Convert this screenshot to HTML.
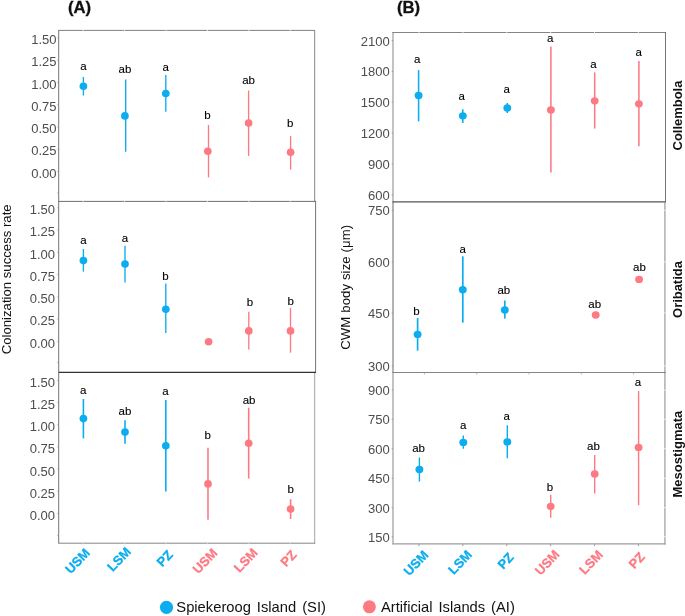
<!DOCTYPE html>
<html lang="en">
<head>
<meta charset="utf-8">
<title>Colonization success rate and CWM body size</title>
<style>
html,body{margin:0;padding:0;background:#fff;}
body{width:685px;height:616px;overflow:hidden;}
svg{display:block;font-family:"Liberation Sans",sans-serif;}
</style>
</head>
<body>
<svg width="685" height="616" viewBox="0 0 685 616">
<rect x="0" y="0" width="685" height="616" fill="#ffffff"/>
<line x1="58.70" y1="30.00" x2="58.70" y2="543.60" stroke="#666666" stroke-width="0.9"/>
<line x1="58.70" y1="30.40" x2="314.70" y2="30.40" stroke="#707070" stroke-width="0.9"/>
<line x1="314.70" y1="30.00" x2="314.70" y2="201.40" stroke="#777" stroke-width="0.9"/>
<line x1="315.60" y1="201.00" x2="315.60" y2="372.40" stroke="#666" stroke-width="0.9"/>
<line x1="314.70" y1="372.40" x2="314.70" y2="543.60" stroke="#999" stroke-width="0.9"/>
<line x1="58.70" y1="201.40" x2="316.00" y2="201.40" stroke="#606060" stroke-width="0.9"/>
<line x1="58.70" y1="372.40" x2="316.00" y2="372.40" stroke="#333" stroke-width="1.1"/>
<line x1="58.70" y1="543.20" x2="315.10" y2="543.20" stroke="#777" stroke-width="0.9"/>
<line x1="57.30" y1="38.05" x2="58.70" y2="38.05" stroke="#8a8a8a" stroke-width="0.7"/>
<text transform="translate(56.5,44.17) scale(0.965,1)" text-anchor="end" font-size="13.5" fill="#4d4d4d">1.50</text>
<line x1="57.30" y1="60.28" x2="58.70" y2="60.28" stroke="#8a8a8a" stroke-width="0.7"/>
<text transform="translate(56.5,66.40) scale(0.965,1)" text-anchor="end" font-size="13.5" fill="#4d4d4d">1.25</text>
<line x1="57.30" y1="82.51" x2="58.70" y2="82.51" stroke="#8a8a8a" stroke-width="0.7"/>
<text transform="translate(56.5,88.63) scale(0.965,1)" text-anchor="end" font-size="13.5" fill="#4d4d4d">1.00</text>
<line x1="57.30" y1="104.74" x2="58.70" y2="104.74" stroke="#8a8a8a" stroke-width="0.7"/>
<text transform="translate(56.5,110.86) scale(0.965,1)" text-anchor="end" font-size="13.5" fill="#4d4d4d">0.75</text>
<line x1="57.30" y1="126.97" x2="58.70" y2="126.97" stroke="#8a8a8a" stroke-width="0.7"/>
<text transform="translate(56.5,133.09) scale(0.965,1)" text-anchor="end" font-size="13.5" fill="#4d4d4d">0.50</text>
<line x1="57.30" y1="149.20" x2="58.70" y2="149.20" stroke="#8a8a8a" stroke-width="0.7"/>
<text transform="translate(56.5,155.32) scale(0.965,1)" text-anchor="end" font-size="13.5" fill="#4d4d4d">0.25</text>
<line x1="57.30" y1="171.43" x2="58.70" y2="171.43" stroke="#8a8a8a" stroke-width="0.7"/>
<text transform="translate(56.5,177.55) scale(0.965,1)" text-anchor="end" font-size="13.5" fill="#4d4d4d">0.00</text>
<line x1="57.30" y1="207.80" x2="58.70" y2="207.80" stroke="#8a8a8a" stroke-width="0.7"/>
<text transform="translate(55.0,214.22) scale(0.965,1)" text-anchor="end" font-size="13.5" fill="#4d4d4d">1.50</text>
<line x1="57.30" y1="230.05" x2="58.70" y2="230.05" stroke="#8a8a8a" stroke-width="0.7"/>
<text transform="translate(55.0,236.47) scale(0.965,1)" text-anchor="end" font-size="13.5" fill="#4d4d4d">1.25</text>
<line x1="57.30" y1="252.30" x2="58.70" y2="252.30" stroke="#8a8a8a" stroke-width="0.7"/>
<text transform="translate(55.0,258.72) scale(0.965,1)" text-anchor="end" font-size="13.5" fill="#4d4d4d">1.00</text>
<line x1="57.30" y1="274.55" x2="58.70" y2="274.55" stroke="#8a8a8a" stroke-width="0.7"/>
<text transform="translate(55.0,280.97) scale(0.965,1)" text-anchor="end" font-size="13.5" fill="#4d4d4d">0.75</text>
<line x1="57.30" y1="296.80" x2="58.70" y2="296.80" stroke="#8a8a8a" stroke-width="0.7"/>
<text transform="translate(55.0,303.22) scale(0.965,1)" text-anchor="end" font-size="13.5" fill="#4d4d4d">0.50</text>
<line x1="57.30" y1="319.05" x2="58.70" y2="319.05" stroke="#8a8a8a" stroke-width="0.7"/>
<text transform="translate(55.0,325.47) scale(0.965,1)" text-anchor="end" font-size="13.5" fill="#4d4d4d">0.25</text>
<line x1="57.30" y1="341.30" x2="58.70" y2="341.30" stroke="#8a8a8a" stroke-width="0.7"/>
<text transform="translate(55.0,347.72) scale(0.965,1)" text-anchor="end" font-size="13.5" fill="#4d4d4d">0.00</text>
<line x1="57.30" y1="380.40" x2="58.70" y2="380.40" stroke="#8a8a8a" stroke-width="0.7"/>
<text transform="translate(55.0,386.92) scale(0.965,1)" text-anchor="end" font-size="13.5" fill="#4d4d4d">1.50</text>
<line x1="57.30" y1="402.57" x2="58.70" y2="402.57" stroke="#8a8a8a" stroke-width="0.7"/>
<text transform="translate(55.0,409.09) scale(0.965,1)" text-anchor="end" font-size="13.5" fill="#4d4d4d">1.25</text>
<line x1="57.30" y1="424.74" x2="58.70" y2="424.74" stroke="#8a8a8a" stroke-width="0.7"/>
<text transform="translate(55.0,431.26) scale(0.965,1)" text-anchor="end" font-size="13.5" fill="#4d4d4d">1.00</text>
<line x1="57.30" y1="446.91" x2="58.70" y2="446.91" stroke="#8a8a8a" stroke-width="0.7"/>
<text transform="translate(55.0,453.43) scale(0.965,1)" text-anchor="end" font-size="13.5" fill="#4d4d4d">0.75</text>
<line x1="57.30" y1="469.08" x2="58.70" y2="469.08" stroke="#8a8a8a" stroke-width="0.7"/>
<text transform="translate(55.0,475.60) scale(0.965,1)" text-anchor="end" font-size="13.5" fill="#4d4d4d">0.50</text>
<line x1="57.30" y1="491.25" x2="58.70" y2="491.25" stroke="#8a8a8a" stroke-width="0.7"/>
<text transform="translate(55.0,497.77) scale(0.965,1)" text-anchor="end" font-size="13.5" fill="#4d4d4d">0.25</text>
<line x1="57.30" y1="513.42" x2="58.70" y2="513.42" stroke="#8a8a8a" stroke-width="0.7"/>
<text transform="translate(55.0,519.94) scale(0.965,1)" text-anchor="end" font-size="13.5" fill="#4d4d4d">0.00</text>
<line x1="57.30" y1="193.00" x2="58.70" y2="193.00" stroke="#8a8a8a" stroke-width="0.7"/>
<line x1="57.30" y1="362.50" x2="58.70" y2="362.50" stroke="#8a8a8a" stroke-width="0.7"/>
<line x1="57.30" y1="535.40" x2="58.70" y2="535.40" stroke="#8a8a8a" stroke-width="0.7"/>
<line x1="83.20" y1="29.60" x2="83.20" y2="31.20" stroke="#fff" stroke-width="0.8"/>
<line x1="83.20" y1="200.60" x2="83.20" y2="202.20" stroke="#fff" stroke-width="0.7"/>
<line x1="83.20" y1="542.60" x2="83.20" y2="543.90" stroke="#e8e8e8" stroke-width="0.7"/>
<line x1="124.60" y1="29.60" x2="124.60" y2="31.20" stroke="#fff" stroke-width="0.8"/>
<line x1="124.60" y1="200.60" x2="124.60" y2="202.20" stroke="#fff" stroke-width="0.7"/>
<line x1="124.60" y1="542.60" x2="124.60" y2="543.90" stroke="#e8e8e8" stroke-width="0.7"/>
<line x1="166.00" y1="29.60" x2="166.00" y2="31.20" stroke="#fff" stroke-width="0.8"/>
<line x1="166.00" y1="200.60" x2="166.00" y2="202.20" stroke="#fff" stroke-width="0.7"/>
<line x1="166.00" y1="542.60" x2="166.00" y2="543.90" stroke="#e8e8e8" stroke-width="0.7"/>
<line x1="207.40" y1="29.60" x2="207.40" y2="31.20" stroke="#fff" stroke-width="0.8"/>
<line x1="207.40" y1="200.60" x2="207.40" y2="202.20" stroke="#fff" stroke-width="0.7"/>
<line x1="207.40" y1="542.60" x2="207.40" y2="543.90" stroke="#e8e8e8" stroke-width="0.7"/>
<line x1="248.80" y1="29.60" x2="248.80" y2="31.20" stroke="#fff" stroke-width="0.8"/>
<line x1="248.80" y1="200.60" x2="248.80" y2="202.20" stroke="#fff" stroke-width="0.7"/>
<line x1="248.80" y1="542.60" x2="248.80" y2="543.90" stroke="#e8e8e8" stroke-width="0.7"/>
<line x1="290.20" y1="29.60" x2="290.20" y2="31.20" stroke="#fff" stroke-width="0.8"/>
<line x1="290.20" y1="200.60" x2="290.20" y2="202.20" stroke="#fff" stroke-width="0.7"/>
<line x1="290.20" y1="542.60" x2="290.20" y2="543.90" stroke="#e8e8e8" stroke-width="0.7"/>
<line x1="393.00" y1="32.10" x2="393.00" y2="201.90" stroke="#9c9c9c" stroke-width="1.2"/>
<line x1="393.00" y1="201.90" x2="393.00" y2="372.50" stroke="#555" stroke-width="0.9"/>
<line x1="393.00" y1="372.50" x2="393.00" y2="544.40" stroke="#9c9c9c" stroke-width="1.2"/>
<line x1="392.50" y1="32.50" x2="665.90" y2="32.50" stroke="#777" stroke-width="0.9"/>
<line x1="665.50" y1="32.10" x2="665.50" y2="201.90" stroke="#666" stroke-width="0.9"/>
<line x1="664.90" y1="202.50" x2="664.90" y2="544.40" stroke="#b8b8b8" stroke-width="1.7"/>
<line x1="392.50" y1="201.90" x2="665.90" y2="201.90" stroke="#555" stroke-width="1.3"/>
<line x1="392.50" y1="372.50" x2="665.50" y2="372.50" stroke="#666" stroke-width="0.8"/>
<line x1="392.50" y1="543.90" x2="665.70" y2="543.90" stroke="#9c9c9c" stroke-width="1.3"/>
<line x1="391.60" y1="40.50" x2="393.00" y2="40.50" stroke="#8a8a8a" stroke-width="0.7"/>
<text transform="translate(389.8,45.52) scale(0.965,1)" text-anchor="end" font-size="13.5" fill="#4d4d4d">2100</text>
<line x1="391.60" y1="71.40" x2="393.00" y2="71.40" stroke="#8a8a8a" stroke-width="0.7"/>
<text transform="translate(389.8,76.42) scale(0.965,1)" text-anchor="end" font-size="13.5" fill="#4d4d4d">1800</text>
<line x1="391.60" y1="102.20" x2="393.00" y2="102.20" stroke="#8a8a8a" stroke-width="0.7"/>
<text transform="translate(389.8,107.22) scale(0.965,1)" text-anchor="end" font-size="13.5" fill="#4d4d4d">1500</text>
<line x1="391.60" y1="133.10" x2="393.00" y2="133.10" stroke="#8a8a8a" stroke-width="0.7"/>
<text transform="translate(389.8,138.12) scale(0.965,1)" text-anchor="end" font-size="13.5" fill="#4d4d4d">1200</text>
<line x1="391.60" y1="164.00" x2="393.00" y2="164.00" stroke="#8a8a8a" stroke-width="0.7"/>
<text transform="translate(389.8,169.02) scale(0.965,1)" text-anchor="end" font-size="13.5" fill="#4d4d4d">900</text>
<line x1="391.60" y1="194.90" x2="393.00" y2="194.90" stroke="#8a8a8a" stroke-width="0.7"/>
<text transform="translate(389.8,199.92) scale(0.965,1)" text-anchor="end" font-size="13.5" fill="#4d4d4d">600</text>
<line x1="391.60" y1="210.30" x2="393.00" y2="210.30" stroke="#8a8a8a" stroke-width="0.7"/>
<text transform="translate(389.8,215.32) scale(0.965,1)" text-anchor="end" font-size="13.5" fill="#4d4d4d">750</text>
<line x1="391.60" y1="262.00" x2="393.00" y2="262.00" stroke="#8a8a8a" stroke-width="0.7"/>
<text transform="translate(389.8,267.02) scale(0.965,1)" text-anchor="end" font-size="13.5" fill="#4d4d4d">600</text>
<line x1="391.60" y1="313.00" x2="393.00" y2="313.00" stroke="#8a8a8a" stroke-width="0.7"/>
<text transform="translate(389.8,318.02) scale(0.965,1)" text-anchor="end" font-size="13.5" fill="#4d4d4d">450</text>
<line x1="391.60" y1="366.00" x2="393.00" y2="366.00" stroke="#8a8a8a" stroke-width="0.7"/>
<text transform="translate(389.8,371.02) scale(0.965,1)" text-anchor="end" font-size="13.5" fill="#4d4d4d">300</text>
<line x1="391.60" y1="390.10" x2="393.00" y2="390.10" stroke="#8a8a8a" stroke-width="0.7"/>
<text transform="translate(389.8,395.12) scale(0.965,1)" text-anchor="end" font-size="13.5" fill="#4d4d4d">900</text>
<line x1="391.60" y1="419.30" x2="393.00" y2="419.30" stroke="#8a8a8a" stroke-width="0.7"/>
<text transform="translate(389.8,424.32) scale(0.965,1)" text-anchor="end" font-size="13.5" fill="#4d4d4d">750</text>
<line x1="391.60" y1="448.70" x2="393.00" y2="448.70" stroke="#8a8a8a" stroke-width="0.7"/>
<text transform="translate(389.8,453.72) scale(0.965,1)" text-anchor="end" font-size="13.5" fill="#4d4d4d">600</text>
<line x1="391.60" y1="478.30" x2="393.00" y2="478.30" stroke="#8a8a8a" stroke-width="0.7"/>
<text transform="translate(389.8,483.32) scale(0.965,1)" text-anchor="end" font-size="13.5" fill="#4d4d4d">450</text>
<line x1="391.60" y1="507.70" x2="393.00" y2="507.70" stroke="#8a8a8a" stroke-width="0.7"/>
<text transform="translate(389.8,512.72) scale(0.965,1)" text-anchor="end" font-size="13.5" fill="#4d4d4d">300</text>
<line x1="391.60" y1="536.80" x2="393.00" y2="536.80" stroke="#8a8a8a" stroke-width="0.7"/>
<text transform="translate(389.8,541.82) scale(0.965,1)" text-anchor="end" font-size="13.5" fill="#4d4d4d">150</text>
<line x1="419.00" y1="31.70" x2="419.00" y2="33.30" stroke="#fff" stroke-width="0.8"/>
<line x1="419.00" y1="544.40" x2="419.00" y2="546.00" stroke="#777" stroke-width="0.8"/>
<line x1="462.88" y1="31.70" x2="462.88" y2="33.30" stroke="#fff" stroke-width="0.8"/>
<line x1="462.88" y1="544.40" x2="462.88" y2="546.00" stroke="#777" stroke-width="0.8"/>
<line x1="506.76" y1="31.70" x2="506.76" y2="33.30" stroke="#fff" stroke-width="0.8"/>
<line x1="506.76" y1="544.40" x2="506.76" y2="546.00" stroke="#777" stroke-width="0.8"/>
<line x1="550.64" y1="31.70" x2="550.64" y2="33.30" stroke="#fff" stroke-width="0.8"/>
<line x1="550.64" y1="544.40" x2="550.64" y2="546.00" stroke="#777" stroke-width="0.8"/>
<line x1="594.52" y1="31.70" x2="594.52" y2="33.30" stroke="#fff" stroke-width="0.8"/>
<line x1="594.52" y1="544.40" x2="594.52" y2="546.00" stroke="#777" stroke-width="0.8"/>
<line x1="638.40" y1="31.70" x2="638.40" y2="33.30" stroke="#fff" stroke-width="0.8"/>
<line x1="638.40" y1="544.40" x2="638.40" y2="546.00" stroke="#777" stroke-width="0.8"/>
<line x1="424.40" y1="372.80" x2="424.40" y2="374.60" stroke="#aaa" stroke-width="0.8"/>
<line x1="476.70" y1="372.80" x2="476.70" y2="374.60" stroke="#aaa" stroke-width="0.8"/>
<line x1="529.00" y1="372.80" x2="529.00" y2="374.60" stroke="#aaa" stroke-width="0.8"/>
<line x1="581.30" y1="372.80" x2="581.30" y2="374.60" stroke="#aaa" stroke-width="0.8"/>
<line x1="633.50" y1="372.80" x2="633.50" y2="374.60" stroke="#aaa" stroke-width="0.8"/>
<line x1="663.80" y1="210.30" x2="666.00" y2="210.30" stroke="#fff" stroke-width="0.7"/>
<line x1="663.80" y1="262.00" x2="666.00" y2="262.00" stroke="#fff" stroke-width="0.7"/>
<line x1="663.80" y1="313.00" x2="666.00" y2="313.00" stroke="#fff" stroke-width="0.7"/>
<line x1="663.80" y1="366.00" x2="666.00" y2="366.00" stroke="#fff" stroke-width="0.7"/>
<line x1="663.80" y1="390.10" x2="666.00" y2="390.10" stroke="#fff" stroke-width="0.7"/>
<line x1="663.80" y1="419.30" x2="666.00" y2="419.30" stroke="#fff" stroke-width="0.7"/>
<line x1="663.80" y1="448.70" x2="666.00" y2="448.70" stroke="#fff" stroke-width="0.7"/>
<line x1="663.80" y1="478.30" x2="666.00" y2="478.30" stroke="#fff" stroke-width="0.7"/>
<line x1="663.80" y1="507.70" x2="666.00" y2="507.70" stroke="#fff" stroke-width="0.7"/>
<line x1="663.80" y1="536.80" x2="666.00" y2="536.80" stroke="#fff" stroke-width="0.7"/>
<line x1="83.4" x2="83.4" y1="77.0" y2="95.5" stroke="#0BADEF" stroke-width="1.35"/>
<ellipse cx="83.4" cy="86.3" rx="3.85" ry="3.8" fill="#0BADEF"/>
<text x="83.4" y="69.8" text-anchor="middle" font-size="11.5" fill="#000" stroke="#000" stroke-width="0.12">a</text>
<line x1="125.7" x2="125.7" y1="79.5" y2="151.8" stroke="#0BADEF" stroke-width="1.35"/>
<ellipse cx="124.9" cy="115.9" rx="3.85" ry="3.8" fill="#0BADEF"/>
<text x="124.9" y="73.2" text-anchor="middle" font-size="11.5" fill="#000" stroke="#000" stroke-width="0.12">ab</text>
<line x1="165.8" x2="165.8" y1="74.9" y2="111.8" stroke="#0BADEF" stroke-width="1.35"/>
<ellipse cx="165.8" cy="93.5" rx="3.85" ry="3.8" fill="#0BADEF"/>
<text x="165.8" y="71.1" text-anchor="middle" font-size="11.5" fill="#000" stroke="#000" stroke-width="0.12">a</text>
<line x1="208.5" x2="208.5" y1="124.9" y2="177.4" stroke="#FD7A83" stroke-width="1.35"/>
<ellipse cx="207.8" cy="151.2" rx="3.85" ry="3.8" fill="#FD7A83"/>
<text x="207.4" y="119.4" text-anchor="middle" font-size="11.5" fill="#000" stroke="#000" stroke-width="0.12">b</text>
<line x1="248.6" x2="248.6" y1="90.5" y2="156.0" stroke="#FD7A83" stroke-width="1.35"/>
<ellipse cx="248.6" cy="123.1" rx="3.85" ry="3.8" fill="#FD7A83"/>
<text x="248.6" y="84.0" text-anchor="middle" font-size="11.5" fill="#000" stroke="#000" stroke-width="0.12">ab</text>
<line x1="290.6" x2="290.6" y1="136.0" y2="169.6" stroke="#FD7A83" stroke-width="1.35"/>
<ellipse cx="290.6" cy="152.3" rx="3.85" ry="3.8" fill="#FD7A83"/>
<text x="290.3" y="126.5" text-anchor="middle" font-size="11.5" fill="#000" stroke="#000" stroke-width="0.12">b</text>
<line x1="83.4" x2="83.4" y1="249.0" y2="271.6" stroke="#0BADEF" stroke-width="1.35"/>
<ellipse cx="83.4" cy="260.5" rx="3.85" ry="3.8" fill="#0BADEF"/>
<text x="83.4" y="243.5" text-anchor="middle" font-size="11.5" fill="#000" stroke="#000" stroke-width="0.12">a</text>
<line x1="125.0" x2="125.0" y1="245.7" y2="282.6" stroke="#0BADEF" stroke-width="1.35"/>
<ellipse cx="125.0" cy="264.0" rx="3.85" ry="3.8" fill="#0BADEF"/>
<text x="125.0" y="242.0" text-anchor="middle" font-size="11.5" fill="#000" stroke="#000" stroke-width="0.12">a</text>
<line x1="165.8" x2="165.8" y1="283.4" y2="333.1" stroke="#0BADEF" stroke-width="1.35"/>
<ellipse cx="165.8" cy="309.3" rx="3.85" ry="3.8" fill="#0BADEF"/>
<text x="165.5" y="279.5" text-anchor="middle" font-size="11.5" fill="#000" stroke="#000" stroke-width="0.12">b</text>
<ellipse cx="208.6" cy="341.7" rx="3.85" ry="3.8" fill="#FD7A83"/>
<line x1="248.8" x2="248.8" y1="311.8" y2="349.5" stroke="#FD7A83" stroke-width="1.35"/>
<ellipse cx="248.8" cy="330.9" rx="3.85" ry="3.8" fill="#FD7A83"/>
<text x="250.0" y="306.3" text-anchor="middle" font-size="11.5" fill="#000" stroke="#000" stroke-width="0.12">b</text>
<line x1="290.5" x2="290.5" y1="308.0" y2="352.7" stroke="#FD7A83" stroke-width="1.35"/>
<ellipse cx="290.5" cy="330.9" rx="3.85" ry="3.8" fill="#FD7A83"/>
<text x="290.8" y="304.6" text-anchor="middle" font-size="11.5" fill="#000" stroke="#000" stroke-width="0.12">b</text>
<line x1="83.4" x2="83.4" y1="399.0" y2="438.4" stroke="#0BADEF" stroke-width="1.6"/>
<ellipse cx="83.4" cy="418.6" rx="3.85" ry="3.8" fill="#0BADEF"/>
<text x="83.2" y="393.7" text-anchor="middle" font-size="11.5" fill="#000" stroke="#000" stroke-width="0.12">a</text>
<line x1="125.0" x2="125.0" y1="420.3" y2="443.7" stroke="#0BADEF" stroke-width="1.6"/>
<ellipse cx="125.0" cy="432.1" rx="3.85" ry="3.8" fill="#0BADEF"/>
<text x="125.0" y="414.6" text-anchor="middle" font-size="11.5" fill="#000" stroke="#000" stroke-width="0.12">ab</text>
<line x1="165.8" x2="165.8" y1="400.0" y2="491.6" stroke="#0BADEF" stroke-width="1.6"/>
<ellipse cx="165.8" cy="445.7" rx="3.85" ry="3.8" fill="#0BADEF"/>
<text x="165.5" y="395.0" text-anchor="middle" font-size="11.5" fill="#000" stroke="#000" stroke-width="0.12">a</text>
<line x1="208.0" x2="208.0" y1="447.7" y2="519.8" stroke="#FD7A83" stroke-width="1.6"/>
<ellipse cx="208.0" cy="483.9" rx="3.85" ry="3.8" fill="#FD7A83"/>
<text x="207.7" y="439.0" text-anchor="middle" font-size="11.5" fill="#000" stroke="#000" stroke-width="0.12">b</text>
<line x1="248.7" x2="248.7" y1="407.7" y2="478.6" stroke="#FD7A83" stroke-width="1.6"/>
<ellipse cx="248.7" cy="443.2" rx="3.85" ry="3.8" fill="#FD7A83"/>
<text x="249.1" y="404.1" text-anchor="middle" font-size="11.5" fill="#000" stroke="#000" stroke-width="0.12">ab</text>
<line x1="290.6" x2="290.6" y1="499.2" y2="519.0" stroke="#FD7A83" stroke-width="1.6"/>
<ellipse cx="290.6" cy="509.0" rx="3.85" ry="3.8" fill="#FD7A83"/>
<text x="290.8" y="493.2" text-anchor="middle" font-size="11.5" fill="#000" stroke="#000" stroke-width="0.12">b</text>
<line x1="418.6" x2="418.6" y1="70.1" y2="121.4" stroke="#0BADEF" stroke-width="1.55"/>
<ellipse cx="418.6" cy="95.5" rx="3.95" ry="3.65" fill="#0BADEF"/>
<text x="417.1" y="62.8" text-anchor="middle" font-size="11.5" fill="#000" stroke="#000" stroke-width="0.12">a</text>
<line x1="462.8" x2="462.8" y1="109.3" y2="122.9" stroke="#0BADEF" stroke-width="1.55"/>
<ellipse cx="462.8" cy="115.8" rx="3.95" ry="3.65" fill="#0BADEF"/>
<text x="461.8" y="100.3" text-anchor="middle" font-size="11.5" fill="#000" stroke="#000" stroke-width="0.12">a</text>
<line x1="507.3" x2="507.3" y1="103.0" y2="113.0" stroke="#0BADEF" stroke-width="1.55"/>
<ellipse cx="507.3" cy="108.0" rx="3.95" ry="3.65" fill="#0BADEF"/>
<text x="506.6" y="92.5" text-anchor="middle" font-size="11.5" fill="#000" stroke="#000" stroke-width="0.12">a</text>
<line x1="550.9" x2="550.9" y1="46.5" y2="172.5" stroke="#FD7A83" stroke-width="1.55"/>
<ellipse cx="550.9" cy="110.0" rx="3.95" ry="3.65" fill="#FD7A83"/>
<text x="550.2" y="42.3" text-anchor="middle" font-size="11.5" fill="#000" stroke="#000" stroke-width="0.12">a</text>
<line x1="594.7" x2="594.7" y1="72.4" y2="128.6" stroke="#FD7A83" stroke-width="1.55"/>
<ellipse cx="594.7" cy="100.8" rx="3.95" ry="3.65" fill="#FD7A83"/>
<text x="593.4" y="68.3" text-anchor="middle" font-size="11.5" fill="#000" stroke="#000" stroke-width="0.12">a</text>
<line x1="638.9" x2="638.9" y1="61.0" y2="146.2" stroke="#FD7A83" stroke-width="1.55"/>
<ellipse cx="638.9" cy="103.8" rx="3.95" ry="3.65" fill="#FD7A83"/>
<text x="638.6" y="56.3" text-anchor="middle" font-size="11.5" fill="#000" stroke="#000" stroke-width="0.12">a</text>
<line x1="417.6" x2="417.6" y1="318.0" y2="350.7" stroke="#0BADEF" stroke-width="1.7"/>
<ellipse cx="417.6" cy="334.4" rx="3.95" ry="3.65" fill="#0BADEF"/>
<text x="416.4" y="314.6" text-anchor="middle" font-size="11.5" fill="#000" stroke="#000" stroke-width="0.12">b</text>
<line x1="462.8" x2="462.8" y1="256.3" y2="322.6" stroke="#0BADEF" stroke-width="1.7"/>
<ellipse cx="462.8" cy="289.7" rx="3.95" ry="3.65" fill="#0BADEF"/>
<text x="462.8" y="252.8" text-anchor="middle" font-size="11.5" fill="#000" stroke="#000" stroke-width="0.12">a</text>
<line x1="504.8" x2="504.8" y1="300.5" y2="318.6" stroke="#0BADEF" stroke-width="1.7"/>
<ellipse cx="504.8" cy="310.0" rx="3.95" ry="3.65" fill="#0BADEF"/>
<text x="503.8" y="293.6" text-anchor="middle" font-size="11.5" fill="#000" stroke="#000" stroke-width="0.12">ab</text>
<ellipse cx="595.7" cy="315.0" rx="3.95" ry="3.65" fill="#FD7A83"/>
<text x="594.7" y="307.6" text-anchor="middle" font-size="11.5" fill="#000" stroke="#000" stroke-width="0.12">ab</text>
<ellipse cx="639.1" cy="279.4" rx="3.95" ry="3.65" fill="#FD7A83"/>
<text x="639.4" y="270.6" text-anchor="middle" font-size="11.5" fill="#000" stroke="#000" stroke-width="0.12">ab</text>
<line x1="419.4" x2="419.4" y1="457.5" y2="481.6" stroke="#0BADEF" stroke-width="1.4"/>
<ellipse cx="419.4" cy="469.5" rx="3.95" ry="3.65" fill="#0BADEF"/>
<text x="418.6" y="452.3" text-anchor="middle" font-size="11.5" fill="#000" stroke="#000" stroke-width="0.12">ab</text>
<line x1="463.3" x2="463.3" y1="435.4" y2="448.7" stroke="#0BADEF" stroke-width="1.4"/>
<ellipse cx="463.3" cy="442.4" rx="3.95" ry="3.65" fill="#0BADEF"/>
<text x="463.3" y="428.9" text-anchor="middle" font-size="11.5" fill="#000" stroke="#000" stroke-width="0.12">a</text>
<line x1="507.3" x2="507.3" y1="425.3" y2="458.3" stroke="#0BADEF" stroke-width="1.4"/>
<ellipse cx="507.3" cy="441.9" rx="3.95" ry="3.65" fill="#0BADEF"/>
<text x="506.6" y="419.8" text-anchor="middle" font-size="11.5" fill="#000" stroke="#000" stroke-width="0.12">a</text>
<line x1="550.7" x2="550.7" y1="494.7" y2="517.8" stroke="#FD7A83" stroke-width="1.4"/>
<ellipse cx="550.7" cy="506.5" rx="3.95" ry="3.65" fill="#FD7A83"/>
<text x="549.9" y="490.7" text-anchor="middle" font-size="11.5" fill="#000" stroke="#000" stroke-width="0.12">b</text>
<line x1="594.7" x2="594.7" y1="455.0" y2="493.4" stroke="#FD7A83" stroke-width="1.4"/>
<ellipse cx="594.7" cy="474.0" rx="3.95" ry="3.65" fill="#FD7A83"/>
<text x="593.4" y="450.3" text-anchor="middle" font-size="11.5" fill="#000" stroke="#000" stroke-width="0.12">ab</text>
<line x1="638.6" x2="638.6" y1="390.9" y2="505.2" stroke="#FD7A83" stroke-width="1.4"/>
<ellipse cx="638.6" cy="447.4" rx="3.95" ry="3.65" fill="#FD7A83"/>
<text x="637.9" y="386.2" text-anchor="middle" font-size="11.5" fill="#000" stroke="#000" stroke-width="0.12">a</text>
<text transform="translate(90.7,553.6) rotate(-46.5)" text-anchor="end" font-size="13.0" font-weight="bold" fill="#0BADEF" stroke="#0BADEF" stroke-width="0.3">USM</text>
<text transform="translate(131.6,552.3) rotate(-46.5)" text-anchor="end" font-size="13.0" font-weight="bold" fill="#0BADEF" stroke="#0BADEF" stroke-width="0.3">LSM</text>
<text transform="translate(173.8,555.4) rotate(-46.5)" text-anchor="end" font-size="13.0" font-weight="bold" fill="#0BADEF" stroke="#0BADEF" stroke-width="0.3">PZ</text>
<text transform="translate(218.1,553.6) rotate(-46.5)" text-anchor="end" font-size="13.0" font-weight="bold" fill="#FD7A83" stroke="#FD7A83" stroke-width="0.3">USM</text>
<text transform="translate(258.5,553.4) rotate(-46.5)" text-anchor="end" font-size="13.0" font-weight="bold" fill="#FD7A83" stroke="#FD7A83" stroke-width="0.3">LSM</text>
<text transform="translate(297.4,555.4) rotate(-46.5)" text-anchor="end" font-size="13.0" font-weight="bold" fill="#FD7A83" stroke="#FD7A83" stroke-width="0.3">PZ</text>
<text transform="translate(429.1,555.6) rotate(-46.5)" text-anchor="end" font-size="13.0" font-weight="bold" fill="#0BADEF" stroke="#0BADEF" stroke-width="0.3">USM</text>
<text transform="translate(472.6,555.4) rotate(-46.5)" text-anchor="end" font-size="13.0" font-weight="bold" fill="#0BADEF" stroke="#0BADEF" stroke-width="0.3">LSM</text>
<text transform="translate(514.6,557.9) rotate(-46.5)" text-anchor="end" font-size="13.0" font-weight="bold" fill="#0BADEF" stroke="#0BADEF" stroke-width="0.3">PZ</text>
<text transform="translate(560.3,555.1) rotate(-46.5)" text-anchor="end" font-size="13.0" font-weight="bold" fill="#FD7A83" stroke="#FD7A83" stroke-width="0.3">USM</text>
<text transform="translate(603.7,555.4) rotate(-46.5)" text-anchor="end" font-size="13.0" font-weight="bold" fill="#FD7A83" stroke="#FD7A83" stroke-width="0.3">LSM</text>
<text transform="translate(645.7,557.4) rotate(-46.5)" text-anchor="end" font-size="13.0" font-weight="bold" fill="#FD7A83" stroke="#FD7A83" stroke-width="0.3">PZ</text>
<text x="68.0" y="13.0" font-size="17.2" font-weight="bold" fill="#111" stroke="#111" stroke-width="0.3" textLength="23.2" lengthAdjust="spacingAndGlyphs">(A)</text>
<text x="397.0" y="13.0" font-size="17.2" font-weight="bold" fill="#111" stroke="#111" stroke-width="0.3" textLength="23.2" lengthAdjust="spacingAndGlyphs">(B)</text>
<text transform="translate(10.9,279.3) rotate(-90)" text-anchor="middle" font-size="13.2" textLength="150" lengthAdjust="spacing" fill="#111">Colonization success rate</text>
<text transform="translate(349.6,287.3) rotate(-90)" text-anchor="middle" font-size="13.2" textLength="125" lengthAdjust="spacing" fill="#111">CWM body size (μm)</text>
<text transform="translate(682.2,115.5) rotate(-90)" text-anchor="middle" font-size="13" textLength="69.8" lengthAdjust="spacing" font-weight="bold" fill="#111">Collembola</text>
<text transform="translate(682.2,289.5) rotate(-90)" text-anchor="middle" font-size="13" textLength="56.8" lengthAdjust="spacing" font-weight="bold" fill="#111">Oribatida</text>
<text transform="translate(682.2,454.1) rotate(-90)" text-anchor="middle" font-size="13" textLength="86.8" lengthAdjust="spacing" font-weight="bold" fill="#111">Mesostigmata</text>
<circle cx="166.5" cy="607.3" r="6.6" fill="#0BADEF"/>
<text x="176.3" y="611.7" font-size="14.3" fill="#111" word-spacing="1.8" textLength="149.6" lengthAdjust="spacingAndGlyphs">Spiekeroog Island (SI)</text>
<circle cx="369.4" cy="606.8" r="6.5" fill="#FD7A83"/>
<text x="381.0" y="611.7" font-size="14.3" fill="#111" word-spacing="1.8" textLength="133.8" lengthAdjust="spacingAndGlyphs">Artificial Islands (AI)</text>
</svg>
</body>
</html>
